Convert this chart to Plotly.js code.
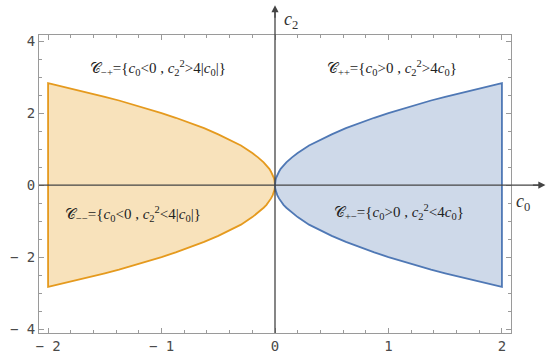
<!DOCTYPE html>
<html><head><meta charset="utf-8">
<script src="https://cdn.plot.ly/plotly-3.0.1.min.js"></script>
<style>html,body{margin:0;padding:0;background:#fff}#chart{width:550px;height:357px}</style>
</head><body><div id="chart"></div>
<script>
// Right branch of the boundary curve c2^2 = 4|c0|
var branchC0 = [0, 0.001, 0.005, 0.01, 0.02, 0.035, 0.05, 0.075, 0.1, 0.15, 0.2, 0.3, 0.4, 0.5, 0.625, 0.75, 0.875, 1.0, 1.125, 1.25, 1.375, 1.5, 1.625, 1.75, 1.875, 2.0];
var branchC2 = [0, 0.063, 0.14, 0.20, 0.28, 0.37, 0.45, 0.55, 0.63, 0.77, 0.89, 1.10, 1.26, 1.41, 1.58, 1.73, 1.87, 2.00, 2.12, 2.24, 2.35, 2.45, 2.55, 2.65, 2.74, 2.83];
var xTickVals = [-2, -1, 0, 1, 2];
var xTickText = ["\u2212 2", "\u2212 1", "0", "1", "2"];
var yTickVals = [-4, -2, 0, 2, 4];
var yTickText = ["\u2212 4", "\u2212 2", "0", "2", "4"];
var regionLabels = [
  {text: "\uD835\uDC9E<sub>\u2212+</sub>={<i>c</i><sub>0</sub><0 , <i>c</i><sub>2</sub><sup>2</sup>>4|<i>c</i><sub>0</sub>|}", x: -1.03, y: 3.25},
  {text: "\uD835\uDC9E<sub>++</sub>={<i>c</i><sub>0</sub>>0 , <i>c</i><sub>2</sub><sup>2</sup>>4<i>c</i><sub>0</sub>}", x: 1.03, y: 3.25},
  {text: "\uD835\uDC9E<sub>\u2212\u2212</sub>={<i>c</i><sub>0</sub><0 , <i>c</i><sub>2</sub><sup>2</sup><4|<i>c</i><sub>0</sub>|}", x: -1.25, y: -0.8},
  {text: "\uD835\uDC9E<sub>+\u2212</sub>={<i>c</i><sub>0</sub>>0 , <i>c</i><sub>2</sub><sup>2</sup><4<i>c</i><sub>0</sub>}", x: 1.09, y: -0.75}
];

function region(sign) {
  var xs = [], ys = [];
  for (var i = 0; i < branchC0.length; i++) { xs.push(sign * branchC0[i]); ys.push(branchC2[i]); }
  for (var j = branchC0.length - 1; j >= 0; j--) { xs.push(sign * branchC0[j]); ys.push(-branchC2[j]); }
  return {xs: xs, ys: ys};
}
var L = region(-1), R = region(1);
var traces = [
  {x: L.xs, y: L.ys, mode: 'lines', fill: 'toself', fillcolor: 'rgba(234,164,45,0.32)',
   line: {color: '#E59A1E', width: 1.8}, hoverinfo: 'skip'},
  {x: R.xs, y: R.ys, mode: 'lines', fill: 'toself', fillcolor: 'rgba(94,129,181,0.3)',
   line: {color: '#4F78B5', width: 1.8}, hoverinfo: 'skip'}
];

var tickFont = {family: '"DejaVu Sans Mono", monospace', size: 14, color: '#4a4a4a'};
var axisCommon = {
  showgrid: false, zeroline: false, showline: true, linecolor: '#9a9a9a', linewidth: 1,
  mirror: 'ticks', ticks: 'inside', ticklen: 5, tickcolor: '#9a9a9a', tickwidth: 1,
  tickmode: 'array', tickfont: tickFont, fixedrange: true
};
var xaxis = Object.assign({}, axisCommon, {range: [-2.08, 2.08], tickvals: xTickVals, ticktext: xTickText,
  minor: {dtick: 0.2, tick0: 0, ticks: 'inside', ticklen: 3, tickcolor: '#9a9a9a'}});
var yaxis = Object.assign({}, axisCommon, {range: [-4.11, 4.17], tickvals: yTickVals, ticktext: yTickText,
  minor: {dtick: 0.5, tick0: 0, ticks: 'inside', ticklen: 3, tickcolor: '#9a9a9a'}});

var labelFont = {family: '"Liberation Serif", "DejaVu Serif", serif', size: 15, color: '#222'};
var annotations = regionLabels.map(function (r) {
  return {text: r.text, x: r.x, y: r.y, xref: 'x', yref: 'y', showarrow: false, font: labelFont};
});
// axis arrows
annotations.push({x: 1.073, y: 0, xref: 'paper', yref: 'y', ax: -14, ay: 0, axref: 'pixel', ayref: 'pixel',
  showarrow: true, arrowhead: 2, arrowsize: 1.1, arrowwidth: 1.3, arrowcolor: '#444', text: ''});
annotations.push({x: 0, y: 1.1, xref: 'x', yref: 'paper', ax: 0, ay: 14, showarrow: true,
  arrowhead: 2, arrowsize: 1.1, arrowwidth: 1.3, arrowcolor: '#444', text: ''});
annotations.push({x: 1.045, y: 0, xref: 'paper', yref: 'y', yshift: -17, showarrow: false,
  text: '<i>c</i><sub>0</sub>', font: {family: '"Liberation Serif", serif', size: 18, color: '#333'}});
annotations.push({x: 0, y: 1.095, xref: 'x', yref: 'paper', xshift: 16, showarrow: false,
  text: '<i>c</i><sub>2</sub>', font: {family: '"Liberation Serif", serif', size: 18, color: '#333'}});

var shapes = [
  {type: 'line', xref: 'paper', yref: 'y', x0: 0, x1: 1.06, y0: 0, y1: 0, line: {color: '#444', width: 1.3}, layer: 'above'},
  {type: 'line', xref: 'x', yref: 'paper', x0: 0, x1: 0, y0: 0, y1: 1.09, line: {color: '#444', width: 1.3}, layer: 'above'}
];

var layout = {
  width: 550, height: 357, margin: {l: 39, r: 39, t: 35, b: 24},
  paper_bgcolor: '#fff', plot_bgcolor: '#fff', showlegend: false,
  xaxis: xaxis, yaxis: yaxis, annotations: annotations, shapes: shapes
};
Plotly.newPlot('chart', traces, layout, {displayModeBar: false, staticPlot: true});
</script></body></html>
